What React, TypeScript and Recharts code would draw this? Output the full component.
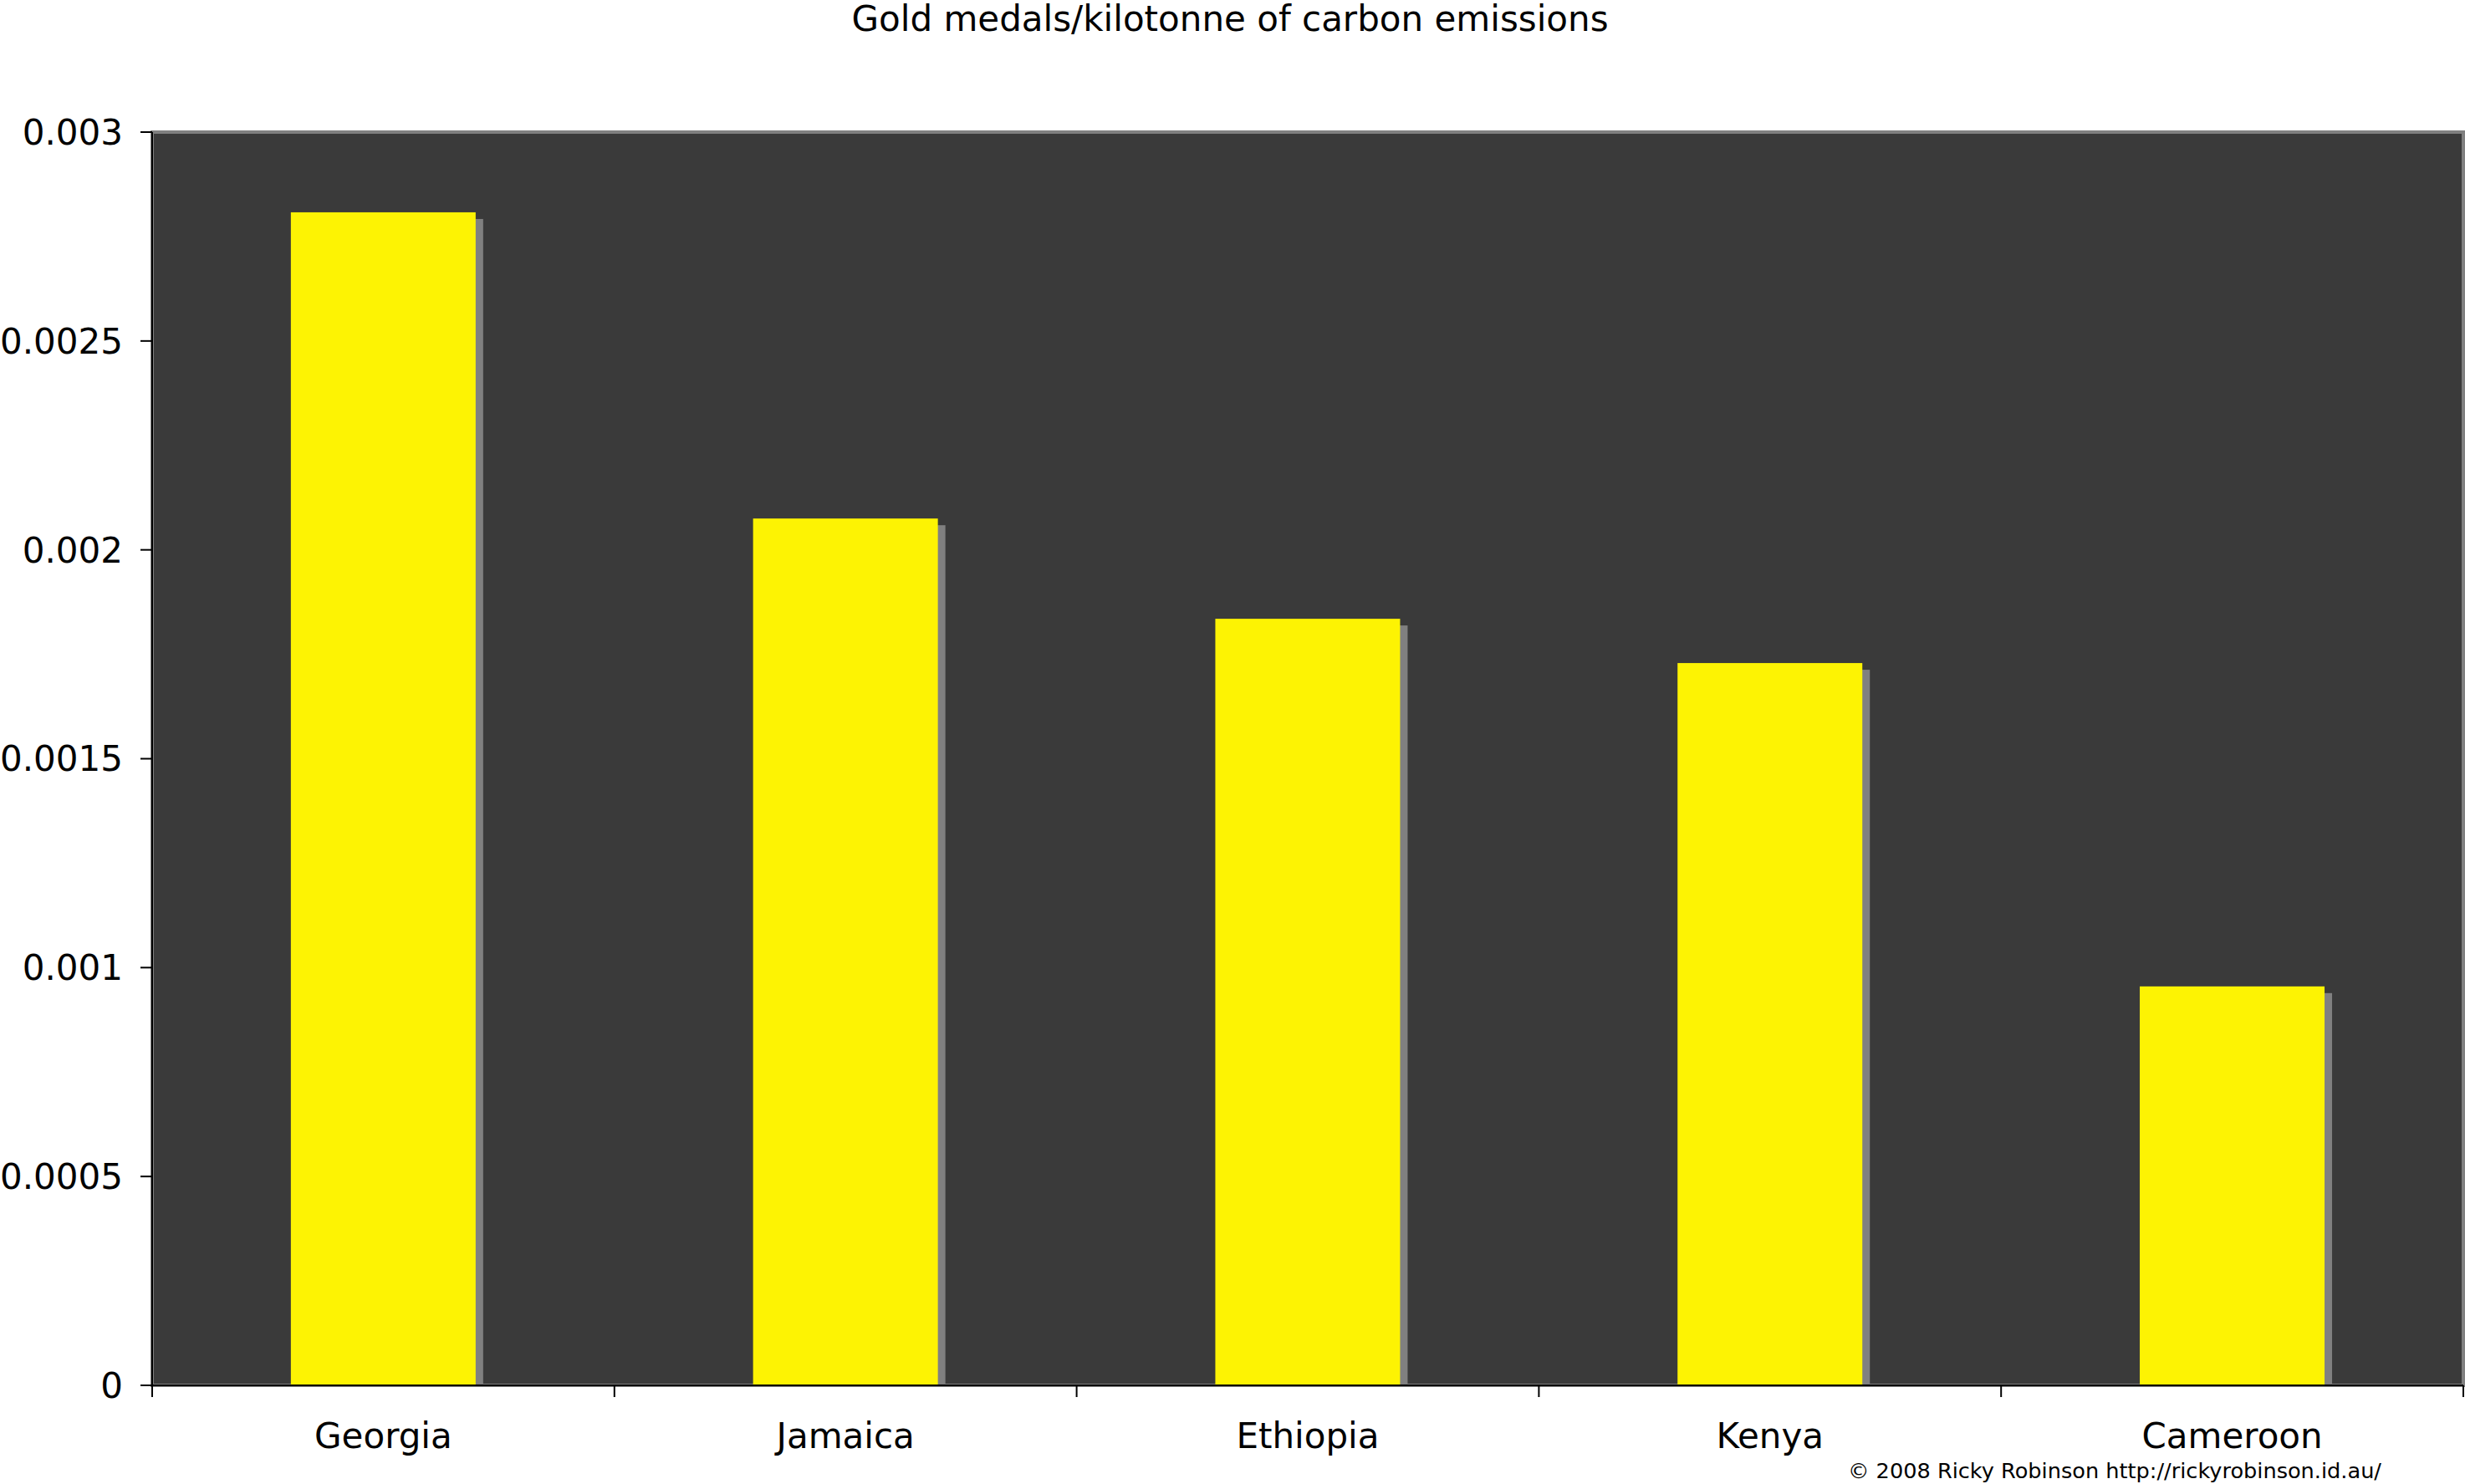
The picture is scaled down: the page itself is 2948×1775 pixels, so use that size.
import React from "react"
import { BarChart, Bar, XAxis, YAxis, ReferenceArea } from "recharts"

const countries = ["Georgia", "Jamaica", "Ethiopia", "Kenya", "Cameroon"]
const medalsPerKt = [0.002808, 0.002075, 0.001835, 0.001729, 0.000955]
const yTicks = [0, 0.0005, 0.001, 0.0015, 0.002, 0.0025, 0.003]

const title = "Gold medals/kilotonne of carbon emissions"
const credit = "© 2008 Ricky Robinson http://rickyrobinson.id.au/"

const data = countries.map((name, i) => ({ name, value: medalsPerKt[i] }))

const font = "'DejaVu Sans', Verdana, sans-serif"
const yellow = "#fdf303"
const shadow = "#808080"

function ShadowBar(props: any) {
  const { x, y, width, height, fill } = props
  if (!height || height <= 0) return null
  return (
    <g>
      <rect x={x + 9} y={y + 8} width={width} height={Math.max(0, height - 8)} fill={shadow} />
      <rect x={x} y={y} width={width} height={height} fill={fill} />
    </g>
  )
}

// label at band centre, tick marks on the band edges (Excel style)
function CountryTick(props: any) {
  const { x, y, payload, index, visibleTicksCount, width } = props
  const half = payload && payload.offset ? payload.offset : width / visibleTicksCount / 2
  const last = index === visibleTicksCount - 1
  return (
    <g>
      <line x1={x - half} x2={x - half} y1={y} y2={y + 14} stroke="#000" strokeWidth={2} />
      {last && <line x1={x + half} x2={x + half} y1={y} y2={y + 14} stroke="#000" strokeWidth={2} />}
      <text
        x={x}
        y={y + 45}
        dy="0.71em"
        textAnchor="middle"
        fontFamily={font}
        fontSize={42}
        fill="#000"
      >
        {payload.value}
      </text>
    </g>
  )
}

export default function App() {
  return (
    <div
      style={{
        position: "absolute",
        left: 0,
        top: 0,
        width: 2948,
        height: 1775,
        background: "#fff",
        fontFamily: font,
      }}
    >
      <div
        style={{
          position: "absolute",
          left: 0,
          top: 2,
          width: 2942,
          textAlign: "center",
          fontSize: 42,
          lineHeight: 1,
          color: "#000",
        }}
      >
        {title}
      </div>

      <BarChart
        width={2948}
        height={1775}
        data={data}
        margin={{ top: 158, right: 2, left: 0, bottom: 0 }}
        barCategoryGap="30%"
      >
        <ReferenceArea
          y1={0}
          y2={0.003}
          fill="#3a3a3a"
          fillOpacity={1}
          stroke="#808080"
          strokeWidth={4}
          ifOverflow="extendDomain"
        />
        <XAxis
          dataKey="name"
          height={118}
          tickLine={false}
          tickSize={0}
          tickMargin={0}
          axisLine={{ stroke: "#000", strokeWidth: 2 }}
          tick={CountryTick}
          interval={0}
        />
        <YAxis
          width={182}
          domain={[0, 0.003]}
          ticks={yTicks}
          interval={0}
          tickSize={14}
          tickMargin={21}
          axisLine={{ stroke: "#000", strokeWidth: 2 }}
          tickLine={{ stroke: "#000", strokeWidth: 2 }}
          tick={{ fontFamily: font, fontSize: 42, fill: "#000" }}
          allowDataOverflow
        />
        <Bar dataKey="value" fill={yellow} shape={ShadowBar} isAnimationActive={false} />
      </BarChart>

      <div
        style={{
          position: "absolute",
          right: 100,
          top: 1747,
          fontSize: 25.6,
          lineHeight: 1,
          color: "#000",
          whiteSpace: "nowrap",
        }}
      >
        {credit}
      </div>
    </div>
  )
}
